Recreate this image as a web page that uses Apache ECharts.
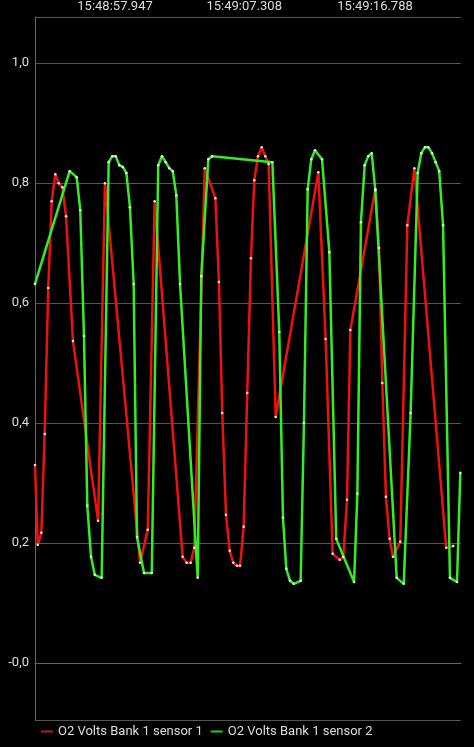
<!DOCTYPE html>
<html><head><meta charset="utf-8">
<script src="https://cdn.jsdelivr.net/npm/echarts@6/dist/echarts.min.js"></script>
<style>html,body{margin:0;background:#000}#c{width:474px;height:747px}</style>
</head><body><div id="c"></div>
<script>
// x = seconds since 15:48:52.147
const tickTimes = [5.80, 15.161, 24.641];
const tickLabels = ['15:48:57.947', '15:49:07.308', '15:49:16.788'];
const s1Name = 'O2 Volts Bank 1 sensor 1';
const s2Name = 'O2 Volts Bank 1 sensor 2';
const s1T = [0.00,0.20,0.46,0.70,0.96,1.21,1.47,1.72,1.98,2.25,2.75,4.57,5.07,7.61,8.17,8.67,10.70,10.99,11.28,11.54,12.30,13.07,13.33,13.57,13.84,14.11,14.37,14.64,14.86,15.12,15.38,15.65,15.89,16.16,16.43,16.69,16.93,17.44,20.53,21.06,21.57,22.08,22.34,22.61,22.85,24.66,24.93,25.17,25.43,25.70,25.94,26.47,26.98,27.49,29.80,30.31];
const s1V = [0.33,0.197,0.217,0.382,0.625,0.77,0.815,0.80,0.793,0.745,0.537,0.237,0.80,0.167,0.222,0.77,0.177,0.167,0.167,0.192,0.825,0.775,0.635,0.417,0.247,0.187,0.167,0.162,0.162,0.227,0.45,0.675,0.805,0.845,0.86,0.845,0.832,0.41,0.818,0.54,0.182,0.172,0.177,0.272,0.555,0.79,0.692,0.467,0.277,0.207,0.177,0.202,0.73,0.825,0.192,0.195];
const s2T = [0.00,2.51,3.02,3.28,3.55,3.79,4.06,4.33,4.83,5.34,5.60,5.85,6.11,6.36,6.62,6.88,7.15,7.39,7.90,8.46,8.93,9.20,9.47,9.73,9.98,10.24,10.51,11.79,12.05,12.56,12.83,17.20,17.70,17.97,18.21,18.48,18.75,19.25,19.49,19.76,20.02,20.29,20.80,21.33,21.83,23.12,23.36,23.62,23.89,24.15,24.40,24.66,26.21,26.72,27.22,27.73,27.99,28.26,28.50,28.77,29.03,29.29,29.57,30.07,30.58,30.82];
const s2V = [0.632,0.82,0.81,0.755,0.545,0.262,0.177,0.147,0.142,0.835,0.845,0.845,0.83,0.827,0.817,0.76,0.632,0.21,0.15,0.15,0.83,0.845,0.835,0.825,0.82,0.78,0.632,0.142,0.645,0.84,0.845,0.835,0.552,0.242,0.157,0.137,0.132,0.137,0.40,0.79,0.84,0.855,0.84,0.685,0.207,0.135,0.282,0.735,0.83,0.845,0.85,0.788,0.142,0.132,0.417,0.817,0.85,0.86,0.86,0.85,0.835,0.82,0.73,0.142,0.135,0.317];
const zip = (t, v) => t.map((x, i) => [x, v[i]]);
const chart = echarts.init(document.getElementById('c'));
const mk = (name, t, v, col) => ({
  name, type: 'line', data: zip(t, v), color: col,
  lineStyle: {color: col, width: 2.5},
  symbol: 'circle', symbolSize: 2.5, showSymbol: true,
  itemStyle: {color: '#eee', borderWidth: 0}, emphasis: {disabled: true}, animation: false
});
chart.setOption({
  backgroundColor: '#000',
  animation: false,
  grid: {left: 35, right: 13, top: 17, bottom: 27},
  xAxis: {
    type: 'value', position: 'top', min: 0, max: 30.87,
    axisLine: {show: true, lineStyle: {color: '#666', width: 1}},
    axisTick: {show: false}, splitLine: {show: false},
    axisLabel: {customValues: tickTimes, color: '#ddd', fontSize: 13, fontFamily: 'Roboto', margin: 4,
      formatter: v => { const i = tickTimes.findIndex(x => Math.abs(x - v) < 0.01); return i >= 0 ? tickLabels[i] : ''; }}
  },
  yAxis: {
    type: 'value', min: -0.095, max: 1.077, splitNumber: 6,
    axisLine: {show: true, lineStyle: {color: '#666', width: 1}},
    axisTick: {show: false},
    splitLine: {lineStyle: {color: '#555', width: 1}},
    axisLabel: {color: '#ddd', fontSize: 13, fontFamily: 'Roboto', margin: 6, showMinLabel: false, showMaxLabel: false,
      formatter: v => Math.abs(v) < 1e-9 ? '-0,0' : v.toFixed(1).replace('.', ',')}
  },
  legend: {
    left: 36, bottom: 4, itemWidth: 12, itemHeight: 2, itemGap: 8,
    textStyle: {color: '#ddd', fontSize: 13, fontFamily: 'Roboto'},
    data: [{name: s1Name, icon: 'rect', itemStyle: {color: '#c8102e'}}, {name: s2Name, icon: 'rect', itemStyle: {color: '#22cc22'}}]
  },
  series: [mk(s1Name, s1T, s1V, '#ee1111'), mk(s2Name, s2T, s2V, '#33ee22')]
});
</script></body></html>
